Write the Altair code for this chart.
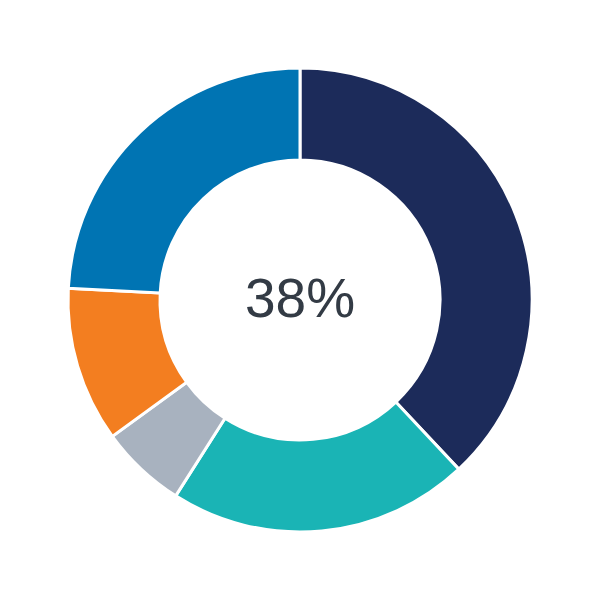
import altair as alt
import pandas as pd

categories = ["A", "B", "C", "D", "E"]
values = [38, 21, 6, 10.8, 24.2]
colors = ["#1c2b5a", "#1ab4b5", "#a8b2bf", "#f37e20", "#0074b3"]
order = [1, 2, 3, 4, 5]
center_label = "38%"

df = pd.DataFrame({"category": categories, "value": values, "order": order})

arcs = alt.Chart(df).mark_arc(
    outerRadius=232, innerRadius=140, stroke="white", strokeWidth=3
).encode(
    theta=alt.Theta("value:Q", stack=True),
    order=alt.Order("order:Q"),
    color=alt.Color("category:N", scale=alt.Scale(domain=categories, range=colors), legend=None),
)

text = alt.Chart(pd.DataFrame({"t": [center_label]})).mark_text(
    fontSize=55, font="Liberation Sans", color="#333b45", baseline="middle", align="center"
).encode(text="t:N")

chart = (arcs + text).properties(width=584, height=584, padding=0, autosize="none").configure_view(stroke=None)

chart.save("out.html", embed_options={"renderer": "svg", "actions": False})
